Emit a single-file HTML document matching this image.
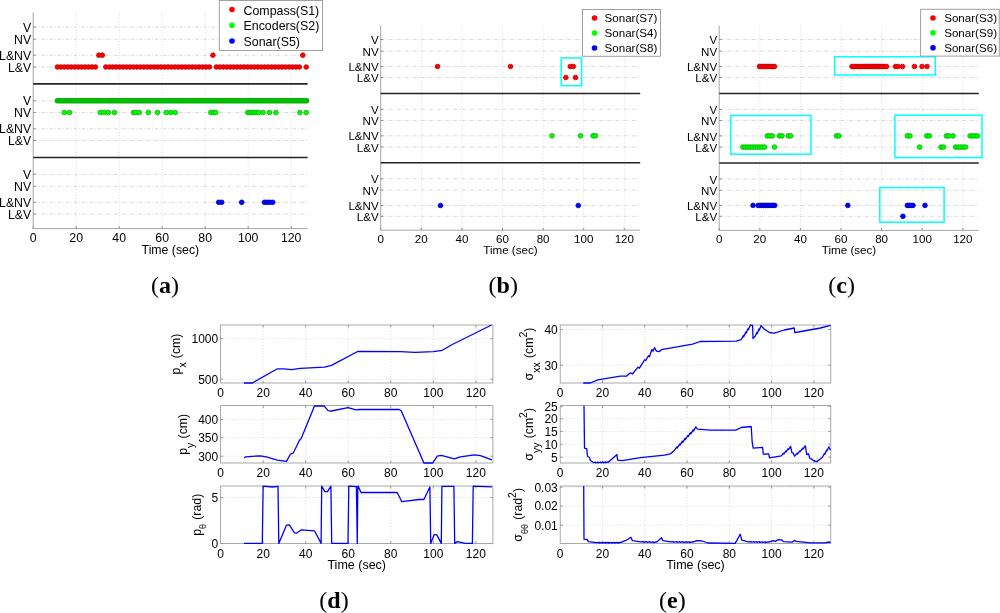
<!DOCTYPE html>
<html><head><meta charset="utf-8"><title>Figure</title>
<style>html,body{margin:0;padding:0;background:#fff}svg{display:block}</style></head>
<body>
<svg width="1000" height="613" viewBox="0 0 1000 613">
<rect width="1000" height="613" fill="#fff"/>
<line x1="76.20" y1="12.50" x2="76.20" y2="228.60" stroke="#dcdcdc" stroke-width="1" stroke-dasharray="1 1.85"/>
<line x1="119.20" y1="12.50" x2="119.20" y2="228.60" stroke="#dcdcdc" stroke-width="1" stroke-dasharray="1 1.85"/>
<line x1="162.20" y1="12.50" x2="162.20" y2="228.60" stroke="#dcdcdc" stroke-width="1" stroke-dasharray="1 1.85"/>
<line x1="205.20" y1="12.50" x2="205.20" y2="228.60" stroke="#dcdcdc" stroke-width="1" stroke-dasharray="1 1.85"/>
<line x1="248.20" y1="12.50" x2="248.20" y2="228.60" stroke="#dcdcdc" stroke-width="1" stroke-dasharray="1 1.85"/>
<line x1="291.20" y1="12.50" x2="291.20" y2="228.60" stroke="#dcdcdc" stroke-width="1" stroke-dasharray="1 1.85"/>
<line x1="33.20" y1="27.00" x2="307.60" y2="27.00" stroke="#d9d9d9" stroke-width="1" stroke-dasharray="3.6 1.8 0.9 1.8"/>
<line x1="33.20" y1="39.20" x2="307.60" y2="39.20" stroke="#d9d9d9" stroke-width="1" stroke-dasharray="3.6 1.8 0.9 1.8"/>
<line x1="33.20" y1="55.20" x2="307.60" y2="55.20" stroke="#d9d9d9" stroke-width="1" stroke-dasharray="3.6 1.8 0.9 1.8"/>
<line x1="33.20" y1="67.00" x2="307.60" y2="67.00" stroke="#d9d9d9" stroke-width="1" stroke-dasharray="3.6 1.8 0.9 1.8"/>
<line x1="33.20" y1="100.80" x2="307.60" y2="100.80" stroke="#d9d9d9" stroke-width="1" stroke-dasharray="3.6 1.8 0.9 1.8"/>
<line x1="33.20" y1="112.50" x2="307.60" y2="112.50" stroke="#d9d9d9" stroke-width="1" stroke-dasharray="3.6 1.8 0.9 1.8"/>
<line x1="33.20" y1="128.80" x2="307.60" y2="128.80" stroke="#d9d9d9" stroke-width="1" stroke-dasharray="3.6 1.8 0.9 1.8"/>
<line x1="33.20" y1="140.50" x2="307.60" y2="140.50" stroke="#d9d9d9" stroke-width="1" stroke-dasharray="3.6 1.8 0.9 1.8"/>
<line x1="33.20" y1="174.30" x2="307.60" y2="174.30" stroke="#d9d9d9" stroke-width="1" stroke-dasharray="3.6 1.8 0.9 1.8"/>
<line x1="33.20" y1="186.30" x2="307.60" y2="186.30" stroke="#d9d9d9" stroke-width="1" stroke-dasharray="3.6 1.8 0.9 1.8"/>
<line x1="33.20" y1="202.30" x2="307.60" y2="202.30" stroke="#d9d9d9" stroke-width="1" stroke-dasharray="3.6 1.8 0.9 1.8"/>
<line x1="33.20" y1="214.00" x2="307.60" y2="214.00" stroke="#d9d9d9" stroke-width="1" stroke-dasharray="3.6 1.8 0.9 1.8"/>
<line x1="33.20" y1="12.50" x2="33.20" y2="228.60" stroke="#8e8e8e" stroke-width="0.8" />
<line x1="33.20" y1="228.60" x2="307.60" y2="228.60" stroke="#8e8e8e" stroke-width="0.8" />
<line x1="33.20" y1="228.60" x2="33.20" y2="226.10" stroke="#8e8e8e" stroke-width="1" />
<text x="33.20" y="241.80" font-size="12.3" text-anchor="middle" font-family='"Liberation Sans", sans-serif' >0</text>
<line x1="76.20" y1="228.60" x2="76.20" y2="226.10" stroke="#8e8e8e" stroke-width="1" />
<text x="76.20" y="241.80" font-size="12.3" text-anchor="middle" font-family='"Liberation Sans", sans-serif' >20</text>
<line x1="119.20" y1="228.60" x2="119.20" y2="226.10" stroke="#8e8e8e" stroke-width="1" />
<text x="119.20" y="241.80" font-size="12.3" text-anchor="middle" font-family='"Liberation Sans", sans-serif' >40</text>
<line x1="162.20" y1="228.60" x2="162.20" y2="226.10" stroke="#8e8e8e" stroke-width="1" />
<text x="162.20" y="241.80" font-size="12.3" text-anchor="middle" font-family='"Liberation Sans", sans-serif' >60</text>
<line x1="205.20" y1="228.60" x2="205.20" y2="226.10" stroke="#8e8e8e" stroke-width="1" />
<text x="205.20" y="241.80" font-size="12.3" text-anchor="middle" font-family='"Liberation Sans", sans-serif' >80</text>
<line x1="248.20" y1="228.60" x2="248.20" y2="226.10" stroke="#8e8e8e" stroke-width="1" />
<text x="248.20" y="241.80" font-size="12.3" text-anchor="middle" font-family='"Liberation Sans", sans-serif' >100</text>
<line x1="291.20" y1="228.60" x2="291.20" y2="226.10" stroke="#8e8e8e" stroke-width="1" />
<text x="291.20" y="241.80" font-size="12.3" text-anchor="middle" font-family='"Liberation Sans", sans-serif' >120</text>
<line x1="33.20" y1="27.00" x2="35.70" y2="27.00" stroke="#8e8e8e" stroke-width="1" />
<text x="31.20" y="31.60" font-size="12.3" text-anchor="end" font-family='"Liberation Sans", sans-serif' >V</text>
<line x1="33.20" y1="39.20" x2="35.70" y2="39.20" stroke="#8e8e8e" stroke-width="1" />
<text x="31.20" y="43.80" font-size="12.3" text-anchor="end" font-family='"Liberation Sans", sans-serif' >NV</text>
<line x1="33.20" y1="55.20" x2="35.70" y2="55.20" stroke="#8e8e8e" stroke-width="1" />
<text x="31.20" y="59.80" font-size="12.3" text-anchor="end" font-family='"Liberation Sans", sans-serif' >L&amp;NV</text>
<line x1="33.20" y1="67.00" x2="35.70" y2="67.00" stroke="#8e8e8e" stroke-width="1" />
<text x="31.20" y="71.60" font-size="12.3" text-anchor="end" font-family='"Liberation Sans", sans-serif' >L&amp;V</text>
<line x1="33.20" y1="100.80" x2="35.70" y2="100.80" stroke="#8e8e8e" stroke-width="1" />
<text x="31.20" y="105.40" font-size="12.3" text-anchor="end" font-family='"Liberation Sans", sans-serif' >V</text>
<line x1="33.20" y1="112.50" x2="35.70" y2="112.50" stroke="#8e8e8e" stroke-width="1" />
<text x="31.20" y="117.10" font-size="12.3" text-anchor="end" font-family='"Liberation Sans", sans-serif' >NV</text>
<line x1="33.20" y1="128.80" x2="35.70" y2="128.80" stroke="#8e8e8e" stroke-width="1" />
<text x="31.20" y="133.40" font-size="12.3" text-anchor="end" font-family='"Liberation Sans", sans-serif' >L&amp;NV</text>
<line x1="33.20" y1="140.50" x2="35.70" y2="140.50" stroke="#8e8e8e" stroke-width="1" />
<text x="31.20" y="145.10" font-size="12.3" text-anchor="end" font-family='"Liberation Sans", sans-serif' >L&amp;V</text>
<line x1="33.20" y1="174.30" x2="35.70" y2="174.30" stroke="#8e8e8e" stroke-width="1" />
<text x="31.20" y="178.90" font-size="12.3" text-anchor="end" font-family='"Liberation Sans", sans-serif' >V</text>
<line x1="33.20" y1="186.30" x2="35.70" y2="186.30" stroke="#8e8e8e" stroke-width="1" />
<text x="31.20" y="190.90" font-size="12.3" text-anchor="end" font-family='"Liberation Sans", sans-serif' >NV</text>
<line x1="33.20" y1="202.30" x2="35.70" y2="202.30" stroke="#8e8e8e" stroke-width="1" />
<text x="31.20" y="206.90" font-size="12.3" text-anchor="end" font-family='"Liberation Sans", sans-serif' >L&amp;NV</text>
<line x1="33.20" y1="214.00" x2="35.70" y2="214.00" stroke="#8e8e8e" stroke-width="1" />
<text x="31.20" y="218.60" font-size="12.3" text-anchor="end" font-family='"Liberation Sans", sans-serif' >L&amp;V</text>
<line x1="33.20" y1="83.90" x2="307.60" y2="83.90" stroke="#242424" stroke-width="1.6" />
<line x1="33.20" y1="157.50" x2="307.60" y2="157.50" stroke="#242424" stroke-width="1.6" />
<text x="170.40" y="254.10" font-size="12.3" text-anchor="middle" font-family='"Liberation Sans", sans-serif' >Time (sec)</text>
<circle cx="57.40" cy="67.00" r="2.35" fill="#ff0000" stroke="#c80000" stroke-width="0.8"/>
<circle cx="60.86" cy="67.00" r="2.35" fill="#ff0000" stroke="#c80000" stroke-width="0.8"/>
<circle cx="64.31" cy="67.00" r="2.35" fill="#ff0000" stroke="#c80000" stroke-width="0.8"/>
<circle cx="67.77" cy="67.00" r="2.35" fill="#ff0000" stroke="#c80000" stroke-width="0.8"/>
<circle cx="71.22" cy="67.00" r="2.35" fill="#ff0000" stroke="#c80000" stroke-width="0.8"/>
<circle cx="74.68" cy="67.00" r="2.35" fill="#ff0000" stroke="#c80000" stroke-width="0.8"/>
<circle cx="78.14" cy="67.00" r="2.35" fill="#ff0000" stroke="#c80000" stroke-width="0.8"/>
<circle cx="81.59" cy="67.00" r="2.35" fill="#ff0000" stroke="#c80000" stroke-width="0.8"/>
<circle cx="85.05" cy="67.00" r="2.35" fill="#ff0000" stroke="#c80000" stroke-width="0.8"/>
<circle cx="88.50" cy="67.00" r="2.35" fill="#ff0000" stroke="#c80000" stroke-width="0.8"/>
<circle cx="91.96" cy="67.00" r="2.35" fill="#ff0000" stroke="#c80000" stroke-width="0.8"/>
<circle cx="95.42" cy="67.00" r="2.35" fill="#ff0000" stroke="#c80000" stroke-width="0.8"/>
<circle cx="98.87" cy="55.20" r="2.35" fill="#ff0000" stroke="#c80000" stroke-width="0.8"/>
<circle cx="102.33" cy="55.20" r="2.35" fill="#ff0000" stroke="#c80000" stroke-width="0.8"/>
<circle cx="105.78" cy="67.00" r="2.35" fill="#ff0000" stroke="#c80000" stroke-width="0.8"/>
<circle cx="109.24" cy="67.00" r="2.35" fill="#ff0000" stroke="#c80000" stroke-width="0.8"/>
<circle cx="112.70" cy="67.00" r="2.35" fill="#ff0000" stroke="#c80000" stroke-width="0.8"/>
<circle cx="116.15" cy="67.00" r="2.35" fill="#ff0000" stroke="#c80000" stroke-width="0.8"/>
<circle cx="119.61" cy="67.00" r="2.35" fill="#ff0000" stroke="#c80000" stroke-width="0.8"/>
<circle cx="123.06" cy="67.00" r="2.35" fill="#ff0000" stroke="#c80000" stroke-width="0.8"/>
<circle cx="126.52" cy="67.00" r="2.35" fill="#ff0000" stroke="#c80000" stroke-width="0.8"/>
<circle cx="129.98" cy="67.00" r="2.35" fill="#ff0000" stroke="#c80000" stroke-width="0.8"/>
<circle cx="133.43" cy="67.00" r="2.35" fill="#ff0000" stroke="#c80000" stroke-width="0.8"/>
<circle cx="136.89" cy="67.00" r="2.35" fill="#ff0000" stroke="#c80000" stroke-width="0.8"/>
<circle cx="140.34" cy="67.00" r="2.35" fill="#ff0000" stroke="#c80000" stroke-width="0.8"/>
<circle cx="143.80" cy="67.00" r="2.35" fill="#ff0000" stroke="#c80000" stroke-width="0.8"/>
<circle cx="147.26" cy="67.00" r="2.35" fill="#ff0000" stroke="#c80000" stroke-width="0.8"/>
<circle cx="150.71" cy="67.00" r="2.35" fill="#ff0000" stroke="#c80000" stroke-width="0.8"/>
<circle cx="154.17" cy="67.00" r="2.35" fill="#ff0000" stroke="#c80000" stroke-width="0.8"/>
<circle cx="157.62" cy="67.00" r="2.35" fill="#ff0000" stroke="#c80000" stroke-width="0.8"/>
<circle cx="161.08" cy="67.00" r="2.35" fill="#ff0000" stroke="#c80000" stroke-width="0.8"/>
<circle cx="164.54" cy="67.00" r="2.35" fill="#ff0000" stroke="#c80000" stroke-width="0.8"/>
<circle cx="167.99" cy="67.00" r="2.35" fill="#ff0000" stroke="#c80000" stroke-width="0.8"/>
<circle cx="171.45" cy="67.00" r="2.35" fill="#ff0000" stroke="#c80000" stroke-width="0.8"/>
<circle cx="174.90" cy="67.00" r="2.35" fill="#ff0000" stroke="#c80000" stroke-width="0.8"/>
<circle cx="178.36" cy="67.00" r="2.35" fill="#ff0000" stroke="#c80000" stroke-width="0.8"/>
<circle cx="181.82" cy="67.00" r="2.35" fill="#ff0000" stroke="#c80000" stroke-width="0.8"/>
<circle cx="185.27" cy="67.00" r="2.35" fill="#ff0000" stroke="#c80000" stroke-width="0.8"/>
<circle cx="188.73" cy="67.00" r="2.35" fill="#ff0000" stroke="#c80000" stroke-width="0.8"/>
<circle cx="192.18" cy="67.00" r="2.35" fill="#ff0000" stroke="#c80000" stroke-width="0.8"/>
<circle cx="195.64" cy="67.00" r="2.35" fill="#ff0000" stroke="#c80000" stroke-width="0.8"/>
<circle cx="199.10" cy="67.00" r="2.35" fill="#ff0000" stroke="#c80000" stroke-width="0.8"/>
<circle cx="202.55" cy="67.00" r="2.35" fill="#ff0000" stroke="#c80000" stroke-width="0.8"/>
<circle cx="206.01" cy="67.00" r="2.35" fill="#ff0000" stroke="#c80000" stroke-width="0.8"/>
<circle cx="209.46" cy="67.00" r="2.35" fill="#ff0000" stroke="#c80000" stroke-width="0.8"/>
<circle cx="212.92" cy="55.20" r="2.35" fill="#ff0000" stroke="#c80000" stroke-width="0.8"/>
<circle cx="216.38" cy="67.00" r="2.35" fill="#ff0000" stroke="#c80000" stroke-width="0.8"/>
<circle cx="219.83" cy="67.00" r="2.35" fill="#ff0000" stroke="#c80000" stroke-width="0.8"/>
<circle cx="223.29" cy="67.00" r="2.35" fill="#ff0000" stroke="#c80000" stroke-width="0.8"/>
<circle cx="226.74" cy="67.00" r="2.35" fill="#ff0000" stroke="#c80000" stroke-width="0.8"/>
<circle cx="230.20" cy="67.00" r="2.35" fill="#ff0000" stroke="#c80000" stroke-width="0.8"/>
<circle cx="233.66" cy="67.00" r="2.35" fill="#ff0000" stroke="#c80000" stroke-width="0.8"/>
<circle cx="237.11" cy="67.00" r="2.35" fill="#ff0000" stroke="#c80000" stroke-width="0.8"/>
<circle cx="240.57" cy="67.00" r="2.35" fill="#ff0000" stroke="#c80000" stroke-width="0.8"/>
<circle cx="244.02" cy="67.00" r="2.35" fill="#ff0000" stroke="#c80000" stroke-width="0.8"/>
<circle cx="247.48" cy="67.00" r="2.35" fill="#ff0000" stroke="#c80000" stroke-width="0.8"/>
<circle cx="250.94" cy="67.00" r="2.35" fill="#ff0000" stroke="#c80000" stroke-width="0.8"/>
<circle cx="254.39" cy="67.00" r="2.35" fill="#ff0000" stroke="#c80000" stroke-width="0.8"/>
<circle cx="257.85" cy="67.00" r="2.35" fill="#ff0000" stroke="#c80000" stroke-width="0.8"/>
<circle cx="261.30" cy="67.00" r="2.35" fill="#ff0000" stroke="#c80000" stroke-width="0.8"/>
<circle cx="264.76" cy="67.00" r="2.35" fill="#ff0000" stroke="#c80000" stroke-width="0.8"/>
<circle cx="268.22" cy="67.00" r="2.35" fill="#ff0000" stroke="#c80000" stroke-width="0.8"/>
<circle cx="271.67" cy="67.00" r="2.35" fill="#ff0000" stroke="#c80000" stroke-width="0.8"/>
<circle cx="275.13" cy="67.00" r="2.35" fill="#ff0000" stroke="#c80000" stroke-width="0.8"/>
<circle cx="278.58" cy="67.00" r="2.35" fill="#ff0000" stroke="#c80000" stroke-width="0.8"/>
<circle cx="282.04" cy="67.00" r="2.35" fill="#ff0000" stroke="#c80000" stroke-width="0.8"/>
<circle cx="285.50" cy="67.00" r="2.35" fill="#ff0000" stroke="#c80000" stroke-width="0.8"/>
<circle cx="288.95" cy="67.00" r="2.35" fill="#ff0000" stroke="#c80000" stroke-width="0.8"/>
<circle cx="292.41" cy="67.00" r="2.35" fill="#ff0000" stroke="#c80000" stroke-width="0.8"/>
<circle cx="295.86" cy="67.00" r="2.35" fill="#ff0000" stroke="#c80000" stroke-width="0.8"/>
<circle cx="299.32" cy="67.00" r="2.35" fill="#ff0000" stroke="#c80000" stroke-width="0.8"/>
<circle cx="302.78" cy="55.20" r="2.35" fill="#ff0000" stroke="#c80000" stroke-width="0.8"/>
<circle cx="306.23" cy="67.00" r="2.35" fill="#ff0000" stroke="#c80000" stroke-width="0.8"/>
<line x1="57.4" y1="100.8" x2="306.5" y2="100.8" stroke="#00b900" stroke-width="5.5" stroke-linecap="round"/>
<circle cx="64.30" cy="112.50" r="2.35" fill="#00ff00" stroke="#00b400" stroke-width="0.8"/>
<circle cx="69.60" cy="112.50" r="2.35" fill="#00ff00" stroke="#00b400" stroke-width="0.8"/>
<circle cx="100.20" cy="112.50" r="2.35" fill="#00ff00" stroke="#00b400" stroke-width="0.8"/>
<circle cx="104.20" cy="112.50" r="2.35" fill="#00ff00" stroke="#00b400" stroke-width="0.8"/>
<circle cx="108.30" cy="112.50" r="2.35" fill="#00ff00" stroke="#00b400" stroke-width="0.8"/>
<circle cx="114.40" cy="112.50" r="2.35" fill="#00ff00" stroke="#00b400" stroke-width="0.8"/>
<circle cx="133.50" cy="112.50" r="2.35" fill="#00ff00" stroke="#00b400" stroke-width="0.8"/>
<circle cx="135.70" cy="112.50" r="2.35" fill="#00ff00" stroke="#00b400" stroke-width="0.8"/>
<circle cx="139.20" cy="112.50" r="2.35" fill="#00ff00" stroke="#00b400" stroke-width="0.8"/>
<circle cx="148.30" cy="112.50" r="2.35" fill="#00ff00" stroke="#00b400" stroke-width="0.8"/>
<circle cx="157.50" cy="112.50" r="2.35" fill="#00ff00" stroke="#00b400" stroke-width="0.8"/>
<circle cx="166.20" cy="112.50" r="2.35" fill="#00ff00" stroke="#00b400" stroke-width="0.8"/>
<circle cx="170.70" cy="112.50" r="2.35" fill="#00ff00" stroke="#00b400" stroke-width="0.8"/>
<circle cx="175.20" cy="112.50" r="2.35" fill="#00ff00" stroke="#00b400" stroke-width="0.8"/>
<circle cx="210.80" cy="112.50" r="2.35" fill="#00ff00" stroke="#00b400" stroke-width="0.8"/>
<circle cx="213.50" cy="112.50" r="2.35" fill="#00ff00" stroke="#00b400" stroke-width="0.8"/>
<circle cx="215.70" cy="112.50" r="2.35" fill="#00ff00" stroke="#00b400" stroke-width="0.8"/>
<circle cx="247.70" cy="112.50" r="2.35" fill="#00ff00" stroke="#00b400" stroke-width="0.8"/>
<circle cx="249.90" cy="112.50" r="2.35" fill="#00ff00" stroke="#00b400" stroke-width="0.8"/>
<circle cx="252.00" cy="112.50" r="2.35" fill="#00ff00" stroke="#00b400" stroke-width="0.8"/>
<circle cx="254.30" cy="112.50" r="2.35" fill="#00ff00" stroke="#00b400" stroke-width="0.8"/>
<circle cx="256.40" cy="112.50" r="2.35" fill="#00ff00" stroke="#00b400" stroke-width="0.8"/>
<circle cx="258.50" cy="112.50" r="2.35" fill="#00ff00" stroke="#00b400" stroke-width="0.8"/>
<circle cx="263.00" cy="112.50" r="2.35" fill="#00ff00" stroke="#00b400" stroke-width="0.8"/>
<circle cx="269.60" cy="112.50" r="2.35" fill="#00ff00" stroke="#00b400" stroke-width="0.8"/>
<circle cx="275.90" cy="112.50" r="2.35" fill="#00ff00" stroke="#00b400" stroke-width="0.8"/>
<circle cx="299.90" cy="112.50" r="2.35" fill="#00ff00" stroke="#00b400" stroke-width="0.8"/>
<circle cx="306.20" cy="112.50" r="2.35" fill="#00ff00" stroke="#00b400" stroke-width="0.8"/>
<circle cx="218.70" cy="202.30" r="2.35" fill="#0000ff" stroke="#0000b8" stroke-width="0.8"/>
<circle cx="221.70" cy="202.30" r="2.35" fill="#0000ff" stroke="#0000b8" stroke-width="0.8"/>
<circle cx="241.70" cy="202.30" r="2.35" fill="#0000ff" stroke="#0000b8" stroke-width="0.8"/>
<circle cx="264.50" cy="202.30" r="2.35" fill="#0000ff" stroke="#0000b8" stroke-width="0.8"/>
<circle cx="267.20" cy="202.30" r="2.35" fill="#0000ff" stroke="#0000b8" stroke-width="0.8"/>
<circle cx="269.70" cy="202.30" r="2.35" fill="#0000ff" stroke="#0000b8" stroke-width="0.8"/>
<circle cx="272.70" cy="202.30" r="2.35" fill="#0000ff" stroke="#0000b8" stroke-width="0.8"/>
<rect x="219.30" y="0.50" width="103.20" height="50.00" fill="#fff" stroke="#a0a0a0" stroke-width="1"/>
<circle cx="232.00" cy="9.50" r="2.8" fill="#ff0000"/>
<text x="243.50" y="14.50" font-size="12.4" text-anchor="start" font-family='"Liberation Sans", sans-serif' >Compass(S1)</text>
<circle cx="232.00" cy="25.20" r="2.8" fill="#00ff00"/>
<text x="243.50" y="30.20" font-size="12.4" text-anchor="start" font-family='"Liberation Sans", sans-serif' >Encoders(S2)</text>
<circle cx="232.00" cy="41.00" r="2.8" fill="#0000ff"/>
<text x="243.50" y="46.00" font-size="12.4" text-anchor="start" font-family='"Liberation Sans", sans-serif' >Sonar(S5)</text>
<line x1="421.30" y1="25.80" x2="421.30" y2="230.20" stroke="#dcdcdc" stroke-width="1" stroke-dasharray="1 1.85"/>
<line x1="461.90" y1="25.80" x2="461.90" y2="230.20" stroke="#dcdcdc" stroke-width="1" stroke-dasharray="1 1.85"/>
<line x1="502.50" y1="25.80" x2="502.50" y2="230.20" stroke="#dcdcdc" stroke-width="1" stroke-dasharray="1 1.85"/>
<line x1="543.10" y1="25.80" x2="543.10" y2="230.20" stroke="#dcdcdc" stroke-width="1" stroke-dasharray="1 1.85"/>
<line x1="583.70" y1="25.80" x2="583.70" y2="230.20" stroke="#dcdcdc" stroke-width="1" stroke-dasharray="1 1.85"/>
<line x1="624.30" y1="25.80" x2="624.30" y2="230.20" stroke="#dcdcdc" stroke-width="1" stroke-dasharray="1 1.85"/>
<line x1="380.70" y1="39.50" x2="640.20" y2="39.50" stroke="#d9d9d9" stroke-width="1" stroke-dasharray="3.6 1.8 0.9 1.8"/>
<line x1="380.70" y1="51.20" x2="640.20" y2="51.20" stroke="#d9d9d9" stroke-width="1" stroke-dasharray="3.6 1.8 0.9 1.8"/>
<line x1="380.70" y1="66.50" x2="640.20" y2="66.50" stroke="#d9d9d9" stroke-width="1" stroke-dasharray="3.6 1.8 0.9 1.8"/>
<line x1="380.70" y1="77.50" x2="640.20" y2="77.50" stroke="#d9d9d9" stroke-width="1" stroke-dasharray="3.6 1.8 0.9 1.8"/>
<line x1="380.70" y1="109.30" x2="640.20" y2="109.30" stroke="#d9d9d9" stroke-width="1" stroke-dasharray="3.6 1.8 0.9 1.8"/>
<line x1="380.70" y1="120.50" x2="640.20" y2="120.50" stroke="#d9d9d9" stroke-width="1" stroke-dasharray="3.6 1.8 0.9 1.8"/>
<line x1="380.70" y1="135.80" x2="640.20" y2="135.80" stroke="#d9d9d9" stroke-width="1" stroke-dasharray="3.6 1.8 0.9 1.8"/>
<line x1="380.70" y1="147.00" x2="640.20" y2="147.00" stroke="#d9d9d9" stroke-width="1" stroke-dasharray="3.6 1.8 0.9 1.8"/>
<line x1="380.70" y1="178.80" x2="640.20" y2="178.80" stroke="#d9d9d9" stroke-width="1" stroke-dasharray="3.6 1.8 0.9 1.8"/>
<line x1="380.70" y1="190.00" x2="640.20" y2="190.00" stroke="#d9d9d9" stroke-width="1" stroke-dasharray="3.6 1.8 0.9 1.8"/>
<line x1="380.70" y1="205.50" x2="640.20" y2="205.50" stroke="#d9d9d9" stroke-width="1" stroke-dasharray="3.6 1.8 0.9 1.8"/>
<line x1="380.70" y1="216.30" x2="640.20" y2="216.30" stroke="#d9d9d9" stroke-width="1" stroke-dasharray="3.6 1.8 0.9 1.8"/>
<line x1="380.70" y1="25.80" x2="380.70" y2="230.20" stroke="#8e8e8e" stroke-width="0.8" />
<line x1="380.70" y1="230.20" x2="640.20" y2="230.20" stroke="#8e8e8e" stroke-width="0.8" />
<line x1="380.70" y1="230.20" x2="380.70" y2="227.70" stroke="#8e8e8e" stroke-width="1" />
<text x="380.70" y="242.70" font-size="11.6" text-anchor="middle" font-family='"Liberation Sans", sans-serif' >0</text>
<line x1="421.30" y1="230.20" x2="421.30" y2="227.70" stroke="#8e8e8e" stroke-width="1" />
<text x="421.30" y="242.70" font-size="11.6" text-anchor="middle" font-family='"Liberation Sans", sans-serif' >20</text>
<line x1="461.90" y1="230.20" x2="461.90" y2="227.70" stroke="#8e8e8e" stroke-width="1" />
<text x="461.90" y="242.70" font-size="11.6" text-anchor="middle" font-family='"Liberation Sans", sans-serif' >40</text>
<line x1="502.50" y1="230.20" x2="502.50" y2="227.70" stroke="#8e8e8e" stroke-width="1" />
<text x="502.50" y="242.70" font-size="11.6" text-anchor="middle" font-family='"Liberation Sans", sans-serif' >60</text>
<line x1="543.10" y1="230.20" x2="543.10" y2="227.70" stroke="#8e8e8e" stroke-width="1" />
<text x="543.10" y="242.70" font-size="11.6" text-anchor="middle" font-family='"Liberation Sans", sans-serif' >80</text>
<line x1="583.70" y1="230.20" x2="583.70" y2="227.70" stroke="#8e8e8e" stroke-width="1" />
<text x="583.70" y="242.70" font-size="11.6" text-anchor="middle" font-family='"Liberation Sans", sans-serif' >100</text>
<line x1="624.30" y1="230.20" x2="624.30" y2="227.70" stroke="#8e8e8e" stroke-width="1" />
<text x="624.30" y="242.70" font-size="11.6" text-anchor="middle" font-family='"Liberation Sans", sans-serif' >120</text>
<line x1="380.70" y1="39.50" x2="383.20" y2="39.50" stroke="#8e8e8e" stroke-width="1" />
<text x="378.70" y="44.10" font-size="11.6" text-anchor="end" font-family='"Liberation Sans", sans-serif' >V</text>
<line x1="380.70" y1="51.20" x2="383.20" y2="51.20" stroke="#8e8e8e" stroke-width="1" />
<text x="378.70" y="55.80" font-size="11.6" text-anchor="end" font-family='"Liberation Sans", sans-serif' >NV</text>
<line x1="380.70" y1="66.50" x2="383.20" y2="66.50" stroke="#8e8e8e" stroke-width="1" />
<text x="378.70" y="71.10" font-size="11.6" text-anchor="end" font-family='"Liberation Sans", sans-serif' >L&amp;NV</text>
<line x1="380.70" y1="77.50" x2="383.20" y2="77.50" stroke="#8e8e8e" stroke-width="1" />
<text x="378.70" y="82.10" font-size="11.6" text-anchor="end" font-family='"Liberation Sans", sans-serif' >L&amp;V</text>
<line x1="380.70" y1="109.30" x2="383.20" y2="109.30" stroke="#8e8e8e" stroke-width="1" />
<text x="378.70" y="113.90" font-size="11.6" text-anchor="end" font-family='"Liberation Sans", sans-serif' >V</text>
<line x1="380.70" y1="120.50" x2="383.20" y2="120.50" stroke="#8e8e8e" stroke-width="1" />
<text x="378.70" y="125.10" font-size="11.6" text-anchor="end" font-family='"Liberation Sans", sans-serif' >NV</text>
<line x1="380.70" y1="135.80" x2="383.20" y2="135.80" stroke="#8e8e8e" stroke-width="1" />
<text x="378.70" y="140.40" font-size="11.6" text-anchor="end" font-family='"Liberation Sans", sans-serif' >L&amp;NV</text>
<line x1="380.70" y1="147.00" x2="383.20" y2="147.00" stroke="#8e8e8e" stroke-width="1" />
<text x="378.70" y="151.60" font-size="11.6" text-anchor="end" font-family='"Liberation Sans", sans-serif' >L&amp;V</text>
<line x1="380.70" y1="178.80" x2="383.20" y2="178.80" stroke="#8e8e8e" stroke-width="1" />
<text x="378.70" y="183.40" font-size="11.6" text-anchor="end" font-family='"Liberation Sans", sans-serif' >V</text>
<line x1="380.70" y1="190.00" x2="383.20" y2="190.00" stroke="#8e8e8e" stroke-width="1" />
<text x="378.70" y="194.60" font-size="11.6" text-anchor="end" font-family='"Liberation Sans", sans-serif' >NV</text>
<line x1="380.70" y1="205.50" x2="383.20" y2="205.50" stroke="#8e8e8e" stroke-width="1" />
<text x="378.70" y="210.10" font-size="11.6" text-anchor="end" font-family='"Liberation Sans", sans-serif' >L&amp;NV</text>
<line x1="380.70" y1="216.30" x2="383.20" y2="216.30" stroke="#8e8e8e" stroke-width="1" />
<text x="378.70" y="220.90" font-size="11.6" text-anchor="end" font-family='"Liberation Sans", sans-serif' >L&amp;V</text>
<line x1="380.70" y1="93.50" x2="640.20" y2="93.50" stroke="#242424" stroke-width="1.6" />
<line x1="380.70" y1="162.80" x2="640.20" y2="162.80" stroke="#242424" stroke-width="1.6" />
<text x="510.45" y="254.10" font-size="11.6" text-anchor="middle" font-family='"Liberation Sans", sans-serif' >Time (sec)</text>
<circle cx="437.50" cy="66.50" r="2.35" fill="#ff0000" stroke="#c80000" stroke-width="0.8"/>
<circle cx="510.50" cy="66.50" r="2.35" fill="#ff0000" stroke="#c80000" stroke-width="0.8"/>
<circle cx="570.30" cy="66.50" r="2.35" fill="#ff0000" stroke="#c80000" stroke-width="0.8"/>
<circle cx="573.30" cy="66.50" r="2.35" fill="#ff0000" stroke="#c80000" stroke-width="0.8"/>
<circle cx="565.80" cy="77.50" r="2.35" fill="#ff0000" stroke="#c80000" stroke-width="0.8"/>
<circle cx="575.50" cy="77.50" r="2.35" fill="#ff0000" stroke="#c80000" stroke-width="0.8"/>
<circle cx="552.00" cy="135.80" r="2.35" fill="#00ff00" stroke="#00b400" stroke-width="0.8"/>
<circle cx="580.50" cy="135.80" r="2.35" fill="#00ff00" stroke="#00b400" stroke-width="0.8"/>
<circle cx="593.00" cy="135.80" r="2.35" fill="#00ff00" stroke="#00b400" stroke-width="0.8"/>
<circle cx="595.50" cy="135.80" r="2.35" fill="#00ff00" stroke="#00b400" stroke-width="0.8"/>
<circle cx="440.50" cy="205.50" r="2.35" fill="#0000ff" stroke="#0000b8" stroke-width="0.8"/>
<circle cx="578.30" cy="205.50" r="2.35" fill="#0000ff" stroke="#0000b8" stroke-width="0.8"/>
<rect x="561.20" y="57.90" width="20.40" height="27.80" fill="none" stroke="#00ffff" stroke-width="1.5"/>
<rect x="582.50" y="9.50" width="78.00" height="46.80" fill="#fff" stroke="#a0a0a0" stroke-width="1"/>
<circle cx="594.50" cy="18.00" r="2.8" fill="#ff0000"/>
<text x="604.50" y="22.20" font-size="11.6" text-anchor="start" font-family='"Liberation Sans", sans-serif' >Sonar(S7)</text>
<circle cx="594.50" cy="33.00" r="2.8" fill="#00ff00"/>
<text x="604.50" y="37.20" font-size="11.6" text-anchor="start" font-family='"Liberation Sans", sans-serif' >Sonar(S4)</text>
<circle cx="594.50" cy="48.00" r="2.8" fill="#0000ff"/>
<text x="604.50" y="52.20" font-size="11.6" text-anchor="start" font-family='"Liberation Sans", sans-serif' >Sonar(S8)</text>
<line x1="759.80" y1="25.80" x2="759.80" y2="230.40" stroke="#dcdcdc" stroke-width="1" stroke-dasharray="1 1.85"/>
<line x1="800.40" y1="25.80" x2="800.40" y2="230.40" stroke="#dcdcdc" stroke-width="1" stroke-dasharray="1 1.85"/>
<line x1="841.00" y1="25.80" x2="841.00" y2="230.40" stroke="#dcdcdc" stroke-width="1" stroke-dasharray="1 1.85"/>
<line x1="881.60" y1="25.80" x2="881.60" y2="230.40" stroke="#dcdcdc" stroke-width="1" stroke-dasharray="1 1.85"/>
<line x1="922.20" y1="25.80" x2="922.20" y2="230.40" stroke="#dcdcdc" stroke-width="1" stroke-dasharray="1 1.85"/>
<line x1="962.80" y1="25.80" x2="962.80" y2="230.40" stroke="#dcdcdc" stroke-width="1" stroke-dasharray="1 1.85"/>
<line x1="719.20" y1="39.50" x2="978.80" y2="39.50" stroke="#d9d9d9" stroke-width="1" stroke-dasharray="3.6 1.8 0.9 1.8"/>
<line x1="719.20" y1="51.20" x2="978.80" y2="51.20" stroke="#d9d9d9" stroke-width="1" stroke-dasharray="3.6 1.8 0.9 1.8"/>
<line x1="719.20" y1="66.50" x2="978.80" y2="66.50" stroke="#d9d9d9" stroke-width="1" stroke-dasharray="3.6 1.8 0.9 1.8"/>
<line x1="719.20" y1="77.50" x2="978.80" y2="77.50" stroke="#d9d9d9" stroke-width="1" stroke-dasharray="3.6 1.8 0.9 1.8"/>
<line x1="719.20" y1="109.40" x2="978.80" y2="109.40" stroke="#d9d9d9" stroke-width="1" stroke-dasharray="3.6 1.8 0.9 1.8"/>
<line x1="719.20" y1="120.50" x2="978.80" y2="120.50" stroke="#d9d9d9" stroke-width="1" stroke-dasharray="3.6 1.8 0.9 1.8"/>
<line x1="719.20" y1="135.90" x2="978.80" y2="135.90" stroke="#d9d9d9" stroke-width="1" stroke-dasharray="3.6 1.8 0.9 1.8"/>
<line x1="719.20" y1="147.10" x2="978.80" y2="147.10" stroke="#d9d9d9" stroke-width="1" stroke-dasharray="3.6 1.8 0.9 1.8"/>
<line x1="719.20" y1="179.00" x2="978.80" y2="179.00" stroke="#d9d9d9" stroke-width="1" stroke-dasharray="3.6 1.8 0.9 1.8"/>
<line x1="719.20" y1="190.30" x2="978.80" y2="190.30" stroke="#d9d9d9" stroke-width="1" stroke-dasharray="3.6 1.8 0.9 1.8"/>
<line x1="719.20" y1="205.40" x2="978.80" y2="205.40" stroke="#d9d9d9" stroke-width="1" stroke-dasharray="3.6 1.8 0.9 1.8"/>
<line x1="719.20" y1="216.30" x2="978.80" y2="216.30" stroke="#d9d9d9" stroke-width="1" stroke-dasharray="3.6 1.8 0.9 1.8"/>
<line x1="719.20" y1="25.80" x2="719.20" y2="230.40" stroke="#8e8e8e" stroke-width="0.8" />
<line x1="719.20" y1="230.40" x2="978.80" y2="230.40" stroke="#8e8e8e" stroke-width="0.8" />
<line x1="719.20" y1="230.40" x2="719.20" y2="227.90" stroke="#8e8e8e" stroke-width="1" />
<text x="719.20" y="242.90" font-size="11.6" text-anchor="middle" font-family='"Liberation Sans", sans-serif' >0</text>
<line x1="759.80" y1="230.40" x2="759.80" y2="227.90" stroke="#8e8e8e" stroke-width="1" />
<text x="759.80" y="242.90" font-size="11.6" text-anchor="middle" font-family='"Liberation Sans", sans-serif' >20</text>
<line x1="800.40" y1="230.40" x2="800.40" y2="227.90" stroke="#8e8e8e" stroke-width="1" />
<text x="800.40" y="242.90" font-size="11.6" text-anchor="middle" font-family='"Liberation Sans", sans-serif' >40</text>
<line x1="841.00" y1="230.40" x2="841.00" y2="227.90" stroke="#8e8e8e" stroke-width="1" />
<text x="841.00" y="242.90" font-size="11.6" text-anchor="middle" font-family='"Liberation Sans", sans-serif' >60</text>
<line x1="881.60" y1="230.40" x2="881.60" y2="227.90" stroke="#8e8e8e" stroke-width="1" />
<text x="881.60" y="242.90" font-size="11.6" text-anchor="middle" font-family='"Liberation Sans", sans-serif' >80</text>
<line x1="922.20" y1="230.40" x2="922.20" y2="227.90" stroke="#8e8e8e" stroke-width="1" />
<text x="922.20" y="242.90" font-size="11.6" text-anchor="middle" font-family='"Liberation Sans", sans-serif' >100</text>
<line x1="962.80" y1="230.40" x2="962.80" y2="227.90" stroke="#8e8e8e" stroke-width="1" />
<text x="962.80" y="242.90" font-size="11.6" text-anchor="middle" font-family='"Liberation Sans", sans-serif' >120</text>
<line x1="719.20" y1="39.50" x2="721.70" y2="39.50" stroke="#8e8e8e" stroke-width="1" />
<text x="717.20" y="44.10" font-size="11.6" text-anchor="end" font-family='"Liberation Sans", sans-serif' >V</text>
<line x1="719.20" y1="51.20" x2="721.70" y2="51.20" stroke="#8e8e8e" stroke-width="1" />
<text x="717.20" y="55.80" font-size="11.6" text-anchor="end" font-family='"Liberation Sans", sans-serif' >NV</text>
<line x1="719.20" y1="66.50" x2="721.70" y2="66.50" stroke="#8e8e8e" stroke-width="1" />
<text x="717.20" y="71.10" font-size="11.6" text-anchor="end" font-family='"Liberation Sans", sans-serif' >L&amp;NV</text>
<line x1="719.20" y1="77.50" x2="721.70" y2="77.50" stroke="#8e8e8e" stroke-width="1" />
<text x="717.20" y="82.10" font-size="11.6" text-anchor="end" font-family='"Liberation Sans", sans-serif' >L&amp;V</text>
<line x1="719.20" y1="109.40" x2="721.70" y2="109.40" stroke="#8e8e8e" stroke-width="1" />
<text x="717.20" y="114.00" font-size="11.6" text-anchor="end" font-family='"Liberation Sans", sans-serif' >V</text>
<line x1="719.20" y1="120.50" x2="721.70" y2="120.50" stroke="#8e8e8e" stroke-width="1" />
<text x="717.20" y="125.10" font-size="11.6" text-anchor="end" font-family='"Liberation Sans", sans-serif' >NV</text>
<line x1="719.20" y1="135.90" x2="721.70" y2="135.90" stroke="#8e8e8e" stroke-width="1" />
<text x="717.20" y="140.50" font-size="11.6" text-anchor="end" font-family='"Liberation Sans", sans-serif' >L&amp;NV</text>
<line x1="719.20" y1="147.10" x2="721.70" y2="147.10" stroke="#8e8e8e" stroke-width="1" />
<text x="717.20" y="151.70" font-size="11.6" text-anchor="end" font-family='"Liberation Sans", sans-serif' >L&amp;V</text>
<line x1="719.20" y1="179.00" x2="721.70" y2="179.00" stroke="#8e8e8e" stroke-width="1" />
<text x="717.20" y="183.60" font-size="11.6" text-anchor="end" font-family='"Liberation Sans", sans-serif' >V</text>
<line x1="719.20" y1="190.30" x2="721.70" y2="190.30" stroke="#8e8e8e" stroke-width="1" />
<text x="717.20" y="194.90" font-size="11.6" text-anchor="end" font-family='"Liberation Sans", sans-serif' >NV</text>
<line x1="719.20" y1="205.40" x2="721.70" y2="205.40" stroke="#8e8e8e" stroke-width="1" />
<text x="717.20" y="210.00" font-size="11.6" text-anchor="end" font-family='"Liberation Sans", sans-serif' >L&amp;NV</text>
<line x1="719.20" y1="216.30" x2="721.70" y2="216.30" stroke="#8e8e8e" stroke-width="1" />
<text x="717.20" y="220.90" font-size="11.6" text-anchor="end" font-family='"Liberation Sans", sans-serif' >L&amp;V</text>
<line x1="719.20" y1="93.50" x2="978.80" y2="93.50" stroke="#242424" stroke-width="1.6" />
<line x1="719.20" y1="163.00" x2="978.80" y2="163.00" stroke="#242424" stroke-width="1.6" />
<text x="849.00" y="254.30" font-size="11.6" text-anchor="middle" font-family='"Liberation Sans", sans-serif' >Time (sec)</text>
<circle cx="759.50" cy="66.50" r="2.35" fill="#ff0000" stroke="#c80000" stroke-width="0.8"/>
<circle cx="761.17" cy="66.50" r="2.35" fill="#ff0000" stroke="#c80000" stroke-width="0.8"/>
<circle cx="762.83" cy="66.50" r="2.35" fill="#ff0000" stroke="#c80000" stroke-width="0.8"/>
<circle cx="764.50" cy="66.50" r="2.35" fill="#ff0000" stroke="#c80000" stroke-width="0.8"/>
<circle cx="766.17" cy="66.50" r="2.35" fill="#ff0000" stroke="#c80000" stroke-width="0.8"/>
<circle cx="767.83" cy="66.50" r="2.35" fill="#ff0000" stroke="#c80000" stroke-width="0.8"/>
<circle cx="769.50" cy="66.50" r="2.35" fill="#ff0000" stroke="#c80000" stroke-width="0.8"/>
<circle cx="771.17" cy="66.50" r="2.35" fill="#ff0000" stroke="#c80000" stroke-width="0.8"/>
<circle cx="772.83" cy="66.50" r="2.35" fill="#ff0000" stroke="#c80000" stroke-width="0.8"/>
<circle cx="774.50" cy="66.50" r="2.35" fill="#ff0000" stroke="#c80000" stroke-width="0.8"/>
<circle cx="852.00" cy="66.50" r="2.35" fill="#ff0000" stroke="#c80000" stroke-width="0.8"/>
<circle cx="853.73" cy="66.50" r="2.35" fill="#ff0000" stroke="#c80000" stroke-width="0.8"/>
<circle cx="855.45" cy="66.50" r="2.35" fill="#ff0000" stroke="#c80000" stroke-width="0.8"/>
<circle cx="857.17" cy="66.50" r="2.35" fill="#ff0000" stroke="#c80000" stroke-width="0.8"/>
<circle cx="858.90" cy="66.50" r="2.35" fill="#ff0000" stroke="#c80000" stroke-width="0.8"/>
<circle cx="860.62" cy="66.50" r="2.35" fill="#ff0000" stroke="#c80000" stroke-width="0.8"/>
<circle cx="862.35" cy="66.50" r="2.35" fill="#ff0000" stroke="#c80000" stroke-width="0.8"/>
<circle cx="864.08" cy="66.50" r="2.35" fill="#ff0000" stroke="#c80000" stroke-width="0.8"/>
<circle cx="865.80" cy="66.50" r="2.35" fill="#ff0000" stroke="#c80000" stroke-width="0.8"/>
<circle cx="867.52" cy="66.50" r="2.35" fill="#ff0000" stroke="#c80000" stroke-width="0.8"/>
<circle cx="869.25" cy="66.50" r="2.35" fill="#ff0000" stroke="#c80000" stroke-width="0.8"/>
<circle cx="870.98" cy="66.50" r="2.35" fill="#ff0000" stroke="#c80000" stroke-width="0.8"/>
<circle cx="872.70" cy="66.50" r="2.35" fill="#ff0000" stroke="#c80000" stroke-width="0.8"/>
<circle cx="874.42" cy="66.50" r="2.35" fill="#ff0000" stroke="#c80000" stroke-width="0.8"/>
<circle cx="876.15" cy="66.50" r="2.35" fill="#ff0000" stroke="#c80000" stroke-width="0.8"/>
<circle cx="877.88" cy="66.50" r="2.35" fill="#ff0000" stroke="#c80000" stroke-width="0.8"/>
<circle cx="879.60" cy="66.50" r="2.35" fill="#ff0000" stroke="#c80000" stroke-width="0.8"/>
<circle cx="881.33" cy="66.50" r="2.35" fill="#ff0000" stroke="#c80000" stroke-width="0.8"/>
<circle cx="883.05" cy="66.50" r="2.35" fill="#ff0000" stroke="#c80000" stroke-width="0.8"/>
<circle cx="884.77" cy="66.50" r="2.35" fill="#ff0000" stroke="#c80000" stroke-width="0.8"/>
<circle cx="886.50" cy="66.50" r="2.35" fill="#ff0000" stroke="#c80000" stroke-width="0.8"/>
<circle cx="895.50" cy="66.50" r="2.35" fill="#ff0000" stroke="#c80000" stroke-width="0.8"/>
<circle cx="898.00" cy="66.50" r="2.35" fill="#ff0000" stroke="#c80000" stroke-width="0.8"/>
<circle cx="902.50" cy="66.50" r="2.35" fill="#ff0000" stroke="#c80000" stroke-width="0.8"/>
<circle cx="914.50" cy="66.50" r="2.35" fill="#ff0000" stroke="#c80000" stroke-width="0.8"/>
<circle cx="922.00" cy="66.50" r="2.35" fill="#ff0000" stroke="#c80000" stroke-width="0.8"/>
<circle cx="927.00" cy="66.50" r="2.35" fill="#ff0000" stroke="#c80000" stroke-width="0.8"/>
<circle cx="767.30" cy="135.90" r="2.35" fill="#00ff00" stroke="#00b400" stroke-width="0.8"/>
<circle cx="769.80" cy="135.90" r="2.35" fill="#00ff00" stroke="#00b400" stroke-width="0.8"/>
<circle cx="772.30" cy="135.90" r="2.35" fill="#00ff00" stroke="#00b400" stroke-width="0.8"/>
<circle cx="779.30" cy="135.90" r="2.35" fill="#00ff00" stroke="#00b400" stroke-width="0.8"/>
<circle cx="782.00" cy="135.90" r="2.35" fill="#00ff00" stroke="#00b400" stroke-width="0.8"/>
<circle cx="788.30" cy="135.90" r="2.35" fill="#00ff00" stroke="#00b400" stroke-width="0.8"/>
<circle cx="790.70" cy="135.90" r="2.35" fill="#00ff00" stroke="#00b400" stroke-width="0.8"/>
<circle cx="836.50" cy="135.90" r="2.35" fill="#00ff00" stroke="#00b400" stroke-width="0.8"/>
<circle cx="838.90" cy="135.90" r="2.35" fill="#00ff00" stroke="#00b400" stroke-width="0.8"/>
<circle cx="907.30" cy="135.90" r="2.35" fill="#00ff00" stroke="#00b400" stroke-width="0.8"/>
<circle cx="910.00" cy="135.90" r="2.35" fill="#00ff00" stroke="#00b400" stroke-width="0.8"/>
<circle cx="926.80" cy="135.90" r="2.35" fill="#00ff00" stroke="#00b400" stroke-width="0.8"/>
<circle cx="929.40" cy="135.90" r="2.35" fill="#00ff00" stroke="#00b400" stroke-width="0.8"/>
<circle cx="946.40" cy="135.90" r="2.35" fill="#00ff00" stroke="#00b400" stroke-width="0.8"/>
<circle cx="948.80" cy="135.90" r="2.35" fill="#00ff00" stroke="#00b400" stroke-width="0.8"/>
<circle cx="953.00" cy="135.90" r="2.35" fill="#00ff00" stroke="#00b400" stroke-width="0.8"/>
<circle cx="970.10" cy="135.90" r="2.35" fill="#00ff00" stroke="#00b400" stroke-width="0.8"/>
<circle cx="972.57" cy="135.90" r="2.35" fill="#00ff00" stroke="#00b400" stroke-width="0.8"/>
<circle cx="975.03" cy="135.90" r="2.35" fill="#00ff00" stroke="#00b400" stroke-width="0.8"/>
<circle cx="977.50" cy="135.90" r="2.35" fill="#00ff00" stroke="#00b400" stroke-width="0.8"/>
<circle cx="742.80" cy="147.10" r="2.35" fill="#00ff00" stroke="#00b400" stroke-width="0.8"/>
<circle cx="745.23" cy="147.10" r="2.35" fill="#00ff00" stroke="#00b400" stroke-width="0.8"/>
<circle cx="747.67" cy="147.10" r="2.35" fill="#00ff00" stroke="#00b400" stroke-width="0.8"/>
<circle cx="750.10" cy="147.10" r="2.35" fill="#00ff00" stroke="#00b400" stroke-width="0.8"/>
<circle cx="752.53" cy="147.10" r="2.35" fill="#00ff00" stroke="#00b400" stroke-width="0.8"/>
<circle cx="754.97" cy="147.10" r="2.35" fill="#00ff00" stroke="#00b400" stroke-width="0.8"/>
<circle cx="757.40" cy="147.10" r="2.35" fill="#00ff00" stroke="#00b400" stroke-width="0.8"/>
<circle cx="759.83" cy="147.10" r="2.35" fill="#00ff00" stroke="#00b400" stroke-width="0.8"/>
<circle cx="762.27" cy="147.10" r="2.35" fill="#00ff00" stroke="#00b400" stroke-width="0.8"/>
<circle cx="764.70" cy="147.10" r="2.35" fill="#00ff00" stroke="#00b400" stroke-width="0.8"/>
<circle cx="774.50" cy="147.10" r="2.35" fill="#00ff00" stroke="#00b400" stroke-width="0.8"/>
<circle cx="919.60" cy="147.10" r="2.35" fill="#00ff00" stroke="#00b400" stroke-width="0.8"/>
<circle cx="941.00" cy="147.10" r="2.35" fill="#00ff00" stroke="#00b400" stroke-width="0.8"/>
<circle cx="943.40" cy="147.10" r="2.35" fill="#00ff00" stroke="#00b400" stroke-width="0.8"/>
<circle cx="955.50" cy="147.10" r="2.35" fill="#00ff00" stroke="#00b400" stroke-width="0.8"/>
<circle cx="958.00" cy="147.10" r="2.35" fill="#00ff00" stroke="#00b400" stroke-width="0.8"/>
<circle cx="960.50" cy="147.10" r="2.35" fill="#00ff00" stroke="#00b400" stroke-width="0.8"/>
<circle cx="963.00" cy="147.10" r="2.35" fill="#00ff00" stroke="#00b400" stroke-width="0.8"/>
<circle cx="965.50" cy="147.10" r="2.35" fill="#00ff00" stroke="#00b400" stroke-width="0.8"/>
<circle cx="753.00" cy="205.40" r="2.35" fill="#0000ff" stroke="#0000b8" stroke-width="0.8"/>
<circle cx="758.20" cy="205.40" r="2.35" fill="#0000ff" stroke="#0000b8" stroke-width="0.8"/>
<circle cx="760.03" cy="205.40" r="2.35" fill="#0000ff" stroke="#0000b8" stroke-width="0.8"/>
<circle cx="761.87" cy="205.40" r="2.35" fill="#0000ff" stroke="#0000b8" stroke-width="0.8"/>
<circle cx="763.70" cy="205.40" r="2.35" fill="#0000ff" stroke="#0000b8" stroke-width="0.8"/>
<circle cx="765.53" cy="205.40" r="2.35" fill="#0000ff" stroke="#0000b8" stroke-width="0.8"/>
<circle cx="767.37" cy="205.40" r="2.35" fill="#0000ff" stroke="#0000b8" stroke-width="0.8"/>
<circle cx="769.20" cy="205.40" r="2.35" fill="#0000ff" stroke="#0000b8" stroke-width="0.8"/>
<circle cx="771.03" cy="205.40" r="2.35" fill="#0000ff" stroke="#0000b8" stroke-width="0.8"/>
<circle cx="772.87" cy="205.40" r="2.35" fill="#0000ff" stroke="#0000b8" stroke-width="0.8"/>
<circle cx="774.70" cy="205.40" r="2.35" fill="#0000ff" stroke="#0000b8" stroke-width="0.8"/>
<circle cx="847.80" cy="205.40" r="2.35" fill="#0000ff" stroke="#0000b8" stroke-width="0.8"/>
<circle cx="907.30" cy="205.40" r="2.35" fill="#0000ff" stroke="#0000b8" stroke-width="0.8"/>
<circle cx="909.20" cy="205.40" r="2.35" fill="#0000ff" stroke="#0000b8" stroke-width="0.8"/>
<circle cx="911.10" cy="205.40" r="2.35" fill="#0000ff" stroke="#0000b8" stroke-width="0.8"/>
<circle cx="913.00" cy="205.40" r="2.35" fill="#0000ff" stroke="#0000b8" stroke-width="0.8"/>
<circle cx="925.00" cy="205.40" r="2.35" fill="#0000ff" stroke="#0000b8" stroke-width="0.8"/>
<circle cx="902.90" cy="216.30" r="2.35" fill="#0000ff" stroke="#0000b8" stroke-width="0.8"/>
<rect x="834.70" y="56.80" width="100.60" height="18.20" fill="none" stroke="#00ffff" stroke-width="1.5"/>
<rect x="730.80" y="115.50" width="80.20" height="38.70" fill="none" stroke="#00ffff" stroke-width="1.5"/>
<rect x="894.90" y="115.20" width="87.10" height="42.40" fill="none" stroke="#00ffff" stroke-width="1.5"/>
<rect x="879.80" y="187.60" width="64.30" height="34.60" fill="none" stroke="#00ffff" stroke-width="1.5"/>
<rect x="920.60" y="9.30" width="78.70" height="46.80" fill="#fff" stroke="#a0a0a0" stroke-width="1"/>
<circle cx="933.00" cy="18.00" r="2.8" fill="#ff0000"/>
<text x="944.20" y="22.20" font-size="11.6" text-anchor="start" font-family='"Liberation Sans", sans-serif' >Sonar(S3)</text>
<circle cx="933.00" cy="32.80" r="2.8" fill="#00ff00"/>
<text x="944.20" y="37.00" font-size="11.6" text-anchor="start" font-family='"Liberation Sans", sans-serif' >Sonar(S9)</text>
<circle cx="933.00" cy="47.70" r="2.8" fill="#0000ff"/>
<text x="944.20" y="51.90" font-size="11.6" text-anchor="start" font-family='"Liberation Sans", sans-serif' >Sonar(S6)</text>
<text x="165.00" y="293.30" font-size="24" text-anchor="middle" font-family='"Liberation Serif", serif'>(<tspan font-weight="bold">a</tspan>)</text>
<text x="503.30" y="293.30" font-size="24" text-anchor="middle" font-family='"Liberation Serif", serif'>(<tspan font-weight="bold">b</tspan>)</text>
<text x="841.60" y="293.30" font-size="24" text-anchor="middle" font-family='"Liberation Serif", serif'>(<tspan font-weight="bold">c</tspan>)</text>
<text x="334.00" y="608.00" font-size="24" text-anchor="middle" font-family='"Liberation Serif", serif'>(<tspan font-weight="bold">d</tspan>)</text>
<text x="672.40" y="608.00" font-size="24" text-anchor="middle" font-family='"Liberation Serif", serif'>(<tspan font-weight="bold">e</tspan>)</text>
<line x1="263.15" y1="325.00" x2="263.15" y2="383.00" stroke="#dcdcdc" stroke-width="1" stroke-dasharray="1 1.85"/>
<line x1="305.69" y1="325.00" x2="305.69" y2="383.00" stroke="#dcdcdc" stroke-width="1" stroke-dasharray="1 1.85"/>
<line x1="348.24" y1="325.00" x2="348.24" y2="383.00" stroke="#dcdcdc" stroke-width="1" stroke-dasharray="1 1.85"/>
<line x1="390.79" y1="325.00" x2="390.79" y2="383.00" stroke="#dcdcdc" stroke-width="1" stroke-dasharray="1 1.85"/>
<line x1="433.33" y1="325.00" x2="433.33" y2="383.00" stroke="#dcdcdc" stroke-width="1" stroke-dasharray="1 1.85"/>
<line x1="475.88" y1="325.00" x2="475.88" y2="383.00" stroke="#dcdcdc" stroke-width="1" stroke-dasharray="1 1.85"/>
<line x1="220.60" y1="338.70" x2="492.90" y2="338.70" stroke="#dcdcdc" stroke-width="1" stroke-dasharray="1 1.85"/>
<line x1="220.60" y1="379.20" x2="492.90" y2="379.20" stroke="#dcdcdc" stroke-width="1" stroke-dasharray="1 1.85"/>
<rect x="220.60" y="325.00" width="272.30" height="58.00" fill="none" stroke="#959595" stroke-width="0.8"/>
<text x="220.60" y="397.00" font-size="12" text-anchor="middle" font-family='"Liberation Sans", sans-serif' >0</text>
<line x1="263.15" y1="383.00" x2="263.15" y2="380.50" stroke="#959595" stroke-width="1" />
<line x1="263.15" y1="325.00" x2="263.15" y2="327.50" stroke="#959595" stroke-width="1" />
<text x="263.15" y="397.00" font-size="12" text-anchor="middle" font-family='"Liberation Sans", sans-serif' >20</text>
<line x1="305.69" y1="383.00" x2="305.69" y2="380.50" stroke="#959595" stroke-width="1" />
<line x1="305.69" y1="325.00" x2="305.69" y2="327.50" stroke="#959595" stroke-width="1" />
<text x="305.69" y="397.00" font-size="12" text-anchor="middle" font-family='"Liberation Sans", sans-serif' >40</text>
<line x1="348.24" y1="383.00" x2="348.24" y2="380.50" stroke="#959595" stroke-width="1" />
<line x1="348.24" y1="325.00" x2="348.24" y2="327.50" stroke="#959595" stroke-width="1" />
<text x="348.24" y="397.00" font-size="12" text-anchor="middle" font-family='"Liberation Sans", sans-serif' >60</text>
<line x1="390.79" y1="383.00" x2="390.79" y2="380.50" stroke="#959595" stroke-width="1" />
<line x1="390.79" y1="325.00" x2="390.79" y2="327.50" stroke="#959595" stroke-width="1" />
<text x="390.79" y="397.00" font-size="12" text-anchor="middle" font-family='"Liberation Sans", sans-serif' >80</text>
<line x1="433.33" y1="383.00" x2="433.33" y2="380.50" stroke="#959595" stroke-width="1" />
<line x1="433.33" y1="325.00" x2="433.33" y2="327.50" stroke="#959595" stroke-width="1" />
<text x="433.33" y="397.00" font-size="12" text-anchor="middle" font-family='"Liberation Sans", sans-serif' >100</text>
<line x1="475.88" y1="383.00" x2="475.88" y2="380.50" stroke="#959595" stroke-width="1" />
<line x1="475.88" y1="325.00" x2="475.88" y2="327.50" stroke="#959595" stroke-width="1" />
<text x="475.88" y="397.00" font-size="12" text-anchor="middle" font-family='"Liberation Sans", sans-serif' >120</text>
<line x1="220.60" y1="338.70" x2="223.10" y2="338.70" stroke="#959595" stroke-width="1" />
<line x1="492.90" y1="338.70" x2="490.40" y2="338.70" stroke="#959595" stroke-width="1" />
<text x="218.20" y="343.00" font-size="12" text-anchor="end" font-family='"Liberation Sans", sans-serif' >1000</text>
<line x1="220.60" y1="379.20" x2="223.10" y2="379.20" stroke="#959595" stroke-width="1" />
<line x1="492.90" y1="379.20" x2="490.40" y2="379.20" stroke="#959595" stroke-width="1" />
<text x="218.20" y="383.50" font-size="12" text-anchor="end" font-family='"Liberation Sans", sans-serif' >500</text>
<path d="M243.9 383.0 L252.3 383.0 L277.4 368.8 L284.0 368.8 L291.4 369.6 L300.4 368.4 L324.5 367.2 L331.5 365.4 L357.6 351.5 L400.0 351.7 L415.2 352.3 L433.3 351.7 L442.3 350.3 L452.3 344.5 L491.5 325.0" fill="none" stroke="#0000ff" stroke-width="1.3" stroke-linejoin="round"/>
<text transform="translate(179.8,354.0) rotate(-90)" font-size="12.3" text-anchor="middle" font-family='"Liberation Sans", sans-serif'>p<tspan dy="6.5" font-size="10.5">x</tspan><tspan dy="-6.5" dx="0.8"> </tspan>(cm)</text>
<line x1="263.15" y1="405.60" x2="263.15" y2="463.00" stroke="#dcdcdc" stroke-width="1" stroke-dasharray="1 1.85"/>
<line x1="305.69" y1="405.60" x2="305.69" y2="463.00" stroke="#dcdcdc" stroke-width="1" stroke-dasharray="1 1.85"/>
<line x1="348.24" y1="405.60" x2="348.24" y2="463.00" stroke="#dcdcdc" stroke-width="1" stroke-dasharray="1 1.85"/>
<line x1="390.79" y1="405.60" x2="390.79" y2="463.00" stroke="#dcdcdc" stroke-width="1" stroke-dasharray="1 1.85"/>
<line x1="433.33" y1="405.60" x2="433.33" y2="463.00" stroke="#dcdcdc" stroke-width="1" stroke-dasharray="1 1.85"/>
<line x1="475.88" y1="405.60" x2="475.88" y2="463.00" stroke="#dcdcdc" stroke-width="1" stroke-dasharray="1 1.85"/>
<line x1="220.60" y1="419.30" x2="492.90" y2="419.30" stroke="#dcdcdc" stroke-width="1" stroke-dasharray="1 1.85"/>
<line x1="220.60" y1="437.70" x2="492.90" y2="437.70" stroke="#dcdcdc" stroke-width="1" stroke-dasharray="1 1.85"/>
<line x1="220.60" y1="456.20" x2="492.90" y2="456.20" stroke="#dcdcdc" stroke-width="1" stroke-dasharray="1 1.85"/>
<rect x="220.60" y="405.60" width="272.30" height="57.40" fill="none" stroke="#959595" stroke-width="0.8"/>
<text x="220.60" y="477.00" font-size="12" text-anchor="middle" font-family='"Liberation Sans", sans-serif' >0</text>
<line x1="263.15" y1="463.00" x2="263.15" y2="460.50" stroke="#959595" stroke-width="1" />
<line x1="263.15" y1="405.60" x2="263.15" y2="408.10" stroke="#959595" stroke-width="1" />
<text x="263.15" y="477.00" font-size="12" text-anchor="middle" font-family='"Liberation Sans", sans-serif' >20</text>
<line x1="305.69" y1="463.00" x2="305.69" y2="460.50" stroke="#959595" stroke-width="1" />
<line x1="305.69" y1="405.60" x2="305.69" y2="408.10" stroke="#959595" stroke-width="1" />
<text x="305.69" y="477.00" font-size="12" text-anchor="middle" font-family='"Liberation Sans", sans-serif' >40</text>
<line x1="348.24" y1="463.00" x2="348.24" y2="460.50" stroke="#959595" stroke-width="1" />
<line x1="348.24" y1="405.60" x2="348.24" y2="408.10" stroke="#959595" stroke-width="1" />
<text x="348.24" y="477.00" font-size="12" text-anchor="middle" font-family='"Liberation Sans", sans-serif' >60</text>
<line x1="390.79" y1="463.00" x2="390.79" y2="460.50" stroke="#959595" stroke-width="1" />
<line x1="390.79" y1="405.60" x2="390.79" y2="408.10" stroke="#959595" stroke-width="1" />
<text x="390.79" y="477.00" font-size="12" text-anchor="middle" font-family='"Liberation Sans", sans-serif' >80</text>
<line x1="433.33" y1="463.00" x2="433.33" y2="460.50" stroke="#959595" stroke-width="1" />
<line x1="433.33" y1="405.60" x2="433.33" y2="408.10" stroke="#959595" stroke-width="1" />
<text x="433.33" y="477.00" font-size="12" text-anchor="middle" font-family='"Liberation Sans", sans-serif' >100</text>
<line x1="475.88" y1="463.00" x2="475.88" y2="460.50" stroke="#959595" stroke-width="1" />
<line x1="475.88" y1="405.60" x2="475.88" y2="408.10" stroke="#959595" stroke-width="1" />
<text x="475.88" y="477.00" font-size="12" text-anchor="middle" font-family='"Liberation Sans", sans-serif' >120</text>
<line x1="220.60" y1="419.30" x2="223.10" y2="419.30" stroke="#959595" stroke-width="1" />
<line x1="492.90" y1="419.30" x2="490.40" y2="419.30" stroke="#959595" stroke-width="1" />
<text x="218.20" y="423.60" font-size="12" text-anchor="end" font-family='"Liberation Sans", sans-serif' >400</text>
<line x1="220.60" y1="437.70" x2="223.10" y2="437.70" stroke="#959595" stroke-width="1" />
<line x1="492.90" y1="437.70" x2="490.40" y2="437.70" stroke="#959595" stroke-width="1" />
<text x="218.20" y="442.00" font-size="12" text-anchor="end" font-family='"Liberation Sans", sans-serif' >350</text>
<line x1="220.60" y1="456.20" x2="223.10" y2="456.20" stroke="#959595" stroke-width="1" />
<line x1="492.90" y1="456.20" x2="490.40" y2="456.20" stroke="#959595" stroke-width="1" />
<text x="218.20" y="460.50" font-size="12" text-anchor="end" font-family='"Liberation Sans", sans-serif' >300</text>
<path d="M244.3 458.2 L245.3 456.8 L260.3 455.8 L266.3 456.8 L277.4 460.2 L286.4 461.4 L290.4 454.2 L293.4 452.8 L299.4 440.5 L301.4 438.1 L314.5 406.0 L324.0 405.8 L328.1 410.7 L331.5 411.0 L348.0 407.7 L356.0 409.9 L360.0 409.5 L399.2 409.5 L401.2 410.7 L423.9 463.0 L432.7 463.0 L437.3 456.2 L441.3 455.4 L454.3 458.8 L460.4 456.8 L474.4 454.8 L480.4 455.6 L491.9 459.8" fill="none" stroke="#0000ff" stroke-width="1.3" stroke-linejoin="round"/>
<text transform="translate(187.2,434.3) rotate(-90)" font-size="12.3" text-anchor="middle" font-family='"Liberation Sans", sans-serif'>p<tspan dy="6.5" font-size="10.5">y</tspan><tspan dy="-6.5" dx="0.8"> </tspan>(cm)</text>
<line x1="263.15" y1="486.00" x2="263.15" y2="543.60" stroke="#dcdcdc" stroke-width="1" stroke-dasharray="1 1.85"/>
<line x1="305.69" y1="486.00" x2="305.69" y2="543.60" stroke="#dcdcdc" stroke-width="1" stroke-dasharray="1 1.85"/>
<line x1="348.24" y1="486.00" x2="348.24" y2="543.60" stroke="#dcdcdc" stroke-width="1" stroke-dasharray="1 1.85"/>
<line x1="390.79" y1="486.00" x2="390.79" y2="543.60" stroke="#dcdcdc" stroke-width="1" stroke-dasharray="1 1.85"/>
<line x1="433.33" y1="486.00" x2="433.33" y2="543.60" stroke="#dcdcdc" stroke-width="1" stroke-dasharray="1 1.85"/>
<line x1="475.88" y1="486.00" x2="475.88" y2="543.60" stroke="#dcdcdc" stroke-width="1" stroke-dasharray="1 1.85"/>
<line x1="220.60" y1="497.50" x2="492.90" y2="497.50" stroke="#dcdcdc" stroke-width="1" stroke-dasharray="1 1.85"/>
<rect x="220.60" y="486.00" width="272.30" height="57.60" fill="none" stroke="#959595" stroke-width="0.8"/>
<text x="220.60" y="557.60" font-size="12" text-anchor="middle" font-family='"Liberation Sans", sans-serif' >0</text>
<line x1="263.15" y1="543.60" x2="263.15" y2="541.10" stroke="#959595" stroke-width="1" />
<line x1="263.15" y1="486.00" x2="263.15" y2="488.50" stroke="#959595" stroke-width="1" />
<text x="263.15" y="557.60" font-size="12" text-anchor="middle" font-family='"Liberation Sans", sans-serif' >20</text>
<line x1="305.69" y1="543.60" x2="305.69" y2="541.10" stroke="#959595" stroke-width="1" />
<line x1="305.69" y1="486.00" x2="305.69" y2="488.50" stroke="#959595" stroke-width="1" />
<text x="305.69" y="557.60" font-size="12" text-anchor="middle" font-family='"Liberation Sans", sans-serif' >40</text>
<line x1="348.24" y1="543.60" x2="348.24" y2="541.10" stroke="#959595" stroke-width="1" />
<line x1="348.24" y1="486.00" x2="348.24" y2="488.50" stroke="#959595" stroke-width="1" />
<text x="348.24" y="557.60" font-size="12" text-anchor="middle" font-family='"Liberation Sans", sans-serif' >60</text>
<line x1="390.79" y1="543.60" x2="390.79" y2="541.10" stroke="#959595" stroke-width="1" />
<line x1="390.79" y1="486.00" x2="390.79" y2="488.50" stroke="#959595" stroke-width="1" />
<text x="390.79" y="557.60" font-size="12" text-anchor="middle" font-family='"Liberation Sans", sans-serif' >80</text>
<line x1="433.33" y1="543.60" x2="433.33" y2="541.10" stroke="#959595" stroke-width="1" />
<line x1="433.33" y1="486.00" x2="433.33" y2="488.50" stroke="#959595" stroke-width="1" />
<text x="433.33" y="557.60" font-size="12" text-anchor="middle" font-family='"Liberation Sans", sans-serif' >100</text>
<line x1="475.88" y1="543.60" x2="475.88" y2="541.10" stroke="#959595" stroke-width="1" />
<line x1="475.88" y1="486.00" x2="475.88" y2="488.50" stroke="#959595" stroke-width="1" />
<text x="475.88" y="557.60" font-size="12" text-anchor="middle" font-family='"Liberation Sans", sans-serif' >120</text>
<line x1="220.60" y1="497.50" x2="223.10" y2="497.50" stroke="#959595" stroke-width="1" />
<line x1="492.90" y1="497.50" x2="490.40" y2="497.50" stroke="#959595" stroke-width="1" />
<text x="218.20" y="501.80" font-size="12" text-anchor="end" font-family='"Liberation Sans", sans-serif' >5</text>
<line x1="220.60" y1="543.60" x2="223.10" y2="543.60" stroke="#959595" stroke-width="1" />
<line x1="492.90" y1="543.60" x2="490.40" y2="543.60" stroke="#959595" stroke-width="1" />
<text x="218.20" y="547.90" font-size="12" text-anchor="end" font-family='"Liberation Sans", sans-serif' >0</text>
<path d="M243.9 543.3 L262.3 543.3 L263.1 486.2 L272.3 487.0 L278.0 486.4 L278.8 543.4 L286.4 525.2 L289.4 524.8 L294.4 532.8 L296.4 533.2 L301.4 529.8 L314.5 530.8 L321.1 543.4 L321.7 486.2 L324.9 491.7 L327.5 491.7 L330.9 486.2 L331.7 543.4 L348.0 543.4 L348.8 486.2 L356.4 486.6 L357.3 543.4 L357.8 486.2 L358.4 486.4 L361.0 492.5 L397.2 492.5 L401.8 501.7 L419.2 499.5 L423.9 499.5 L429.9 487.0 L430.7 543.4 L434.3 534.6 L436.7 534.6 L441.3 543.4 L441.9 486.4 L453.9 486.4 L454.7 543.4 L457.4 541.6 L465.4 543.4 L472.4 543.4 L473.2 486.2 L491.9 486.8" fill="none" stroke="#0000ff" stroke-width="1.3" stroke-linejoin="round"/>
<text transform="translate(200.5,514.8) rotate(-90)" font-size="12.3" text-anchor="middle" font-family='"Liberation Sans", sans-serif'>p<tspan dy="5.5" font-size="9">θ</tspan><tspan dy="-5.5" dx="0.8"> </tspan>(rad)</text>
<text x="356.75" y="568.90" font-size="12.5" text-anchor="middle" font-family='"Liberation Sans", sans-serif' >Time (sec)</text>
<line x1="602.48" y1="325.00" x2="602.48" y2="383.00" stroke="#dcdcdc" stroke-width="1" stroke-dasharray="1 1.85"/>
<line x1="644.76" y1="325.00" x2="644.76" y2="383.00" stroke="#dcdcdc" stroke-width="1" stroke-dasharray="1 1.85"/>
<line x1="687.04" y1="325.00" x2="687.04" y2="383.00" stroke="#dcdcdc" stroke-width="1" stroke-dasharray="1 1.85"/>
<line x1="729.33" y1="325.00" x2="729.33" y2="383.00" stroke="#dcdcdc" stroke-width="1" stroke-dasharray="1 1.85"/>
<line x1="771.61" y1="325.00" x2="771.61" y2="383.00" stroke="#dcdcdc" stroke-width="1" stroke-dasharray="1 1.85"/>
<line x1="813.89" y1="325.00" x2="813.89" y2="383.00" stroke="#dcdcdc" stroke-width="1" stroke-dasharray="1 1.85"/>
<line x1="560.20" y1="329.50" x2="830.80" y2="329.50" stroke="#dcdcdc" stroke-width="1" stroke-dasharray="1 1.85"/>
<line x1="560.20" y1="365.20" x2="830.80" y2="365.20" stroke="#dcdcdc" stroke-width="1" stroke-dasharray="1 1.85"/>
<rect x="560.20" y="325.00" width="270.60" height="58.00" fill="none" stroke="#959595" stroke-width="0.8"/>
<text x="560.20" y="397.00" font-size="12" text-anchor="middle" font-family='"Liberation Sans", sans-serif' >0</text>
<line x1="602.48" y1="383.00" x2="602.48" y2="380.50" stroke="#959595" stroke-width="1" />
<line x1="602.48" y1="325.00" x2="602.48" y2="327.50" stroke="#959595" stroke-width="1" />
<text x="602.48" y="397.00" font-size="12" text-anchor="middle" font-family='"Liberation Sans", sans-serif' >20</text>
<line x1="644.76" y1="383.00" x2="644.76" y2="380.50" stroke="#959595" stroke-width="1" />
<line x1="644.76" y1="325.00" x2="644.76" y2="327.50" stroke="#959595" stroke-width="1" />
<text x="644.76" y="397.00" font-size="12" text-anchor="middle" font-family='"Liberation Sans", sans-serif' >40</text>
<line x1="687.04" y1="383.00" x2="687.04" y2="380.50" stroke="#959595" stroke-width="1" />
<line x1="687.04" y1="325.00" x2="687.04" y2="327.50" stroke="#959595" stroke-width="1" />
<text x="687.04" y="397.00" font-size="12" text-anchor="middle" font-family='"Liberation Sans", sans-serif' >60</text>
<line x1="729.33" y1="383.00" x2="729.33" y2="380.50" stroke="#959595" stroke-width="1" />
<line x1="729.33" y1="325.00" x2="729.33" y2="327.50" stroke="#959595" stroke-width="1" />
<text x="729.33" y="397.00" font-size="12" text-anchor="middle" font-family='"Liberation Sans", sans-serif' >80</text>
<line x1="771.61" y1="383.00" x2="771.61" y2="380.50" stroke="#959595" stroke-width="1" />
<line x1="771.61" y1="325.00" x2="771.61" y2="327.50" stroke="#959595" stroke-width="1" />
<text x="771.61" y="397.00" font-size="12" text-anchor="middle" font-family='"Liberation Sans", sans-serif' >100</text>
<line x1="813.89" y1="383.00" x2="813.89" y2="380.50" stroke="#959595" stroke-width="1" />
<line x1="813.89" y1="325.00" x2="813.89" y2="327.50" stroke="#959595" stroke-width="1" />
<text x="813.89" y="397.00" font-size="12" text-anchor="middle" font-family='"Liberation Sans", sans-serif' >120</text>
<line x1="560.20" y1="329.50" x2="562.70" y2="329.50" stroke="#959595" stroke-width="1" />
<line x1="830.80" y1="329.50" x2="828.30" y2="329.50" stroke="#959595" stroke-width="1" />
<text x="557.80" y="333.80" font-size="12" text-anchor="end" font-family='"Liberation Sans", sans-serif' >40</text>
<line x1="560.20" y1="365.20" x2="562.70" y2="365.20" stroke="#959595" stroke-width="1" />
<line x1="830.80" y1="365.20" x2="828.30" y2="365.20" stroke="#959595" stroke-width="1" />
<text x="557.80" y="369.50" font-size="12" text-anchor="end" font-family='"Liberation Sans", sans-serif' >30</text>
<path d="M583.2 383.0 L590.3 383.0 L597.7 379.8 L620.4 376.2 L626.8 376.0 L630.4 372.8 L632.4 374.0 L638.0 367.2 L639.4 368.2 L644.8 359.7 L645.8 360.5 L648.4 355.7 L649.4 356.7 L651.9 349.5 L652.9 351.1 L654.5 347.7 L656.5 351.1 L659.5 351.5 L661.5 349.7 L692.6 344.1 L700.0 341.5 L736.2 341.1 L741.2 339.7 L743.4 335.5 L743.7 336.8 L745.8 331.9 L746.1 333.3 L748.1 328.4 L748.4 329.7 L750.5 324.8 L750.6 325.4 L752.6 325.4 L753.0 338.5 L755.2 336.1 L757.1 332.1 L757.4 333.5 L759.1 328.8 L759.4 330.1 L761.1 325.4 L761.2 326.0 L764.3 329.0 L769.3 332.5 L774.3 333.1 L784.3 330.0 L794.3 328.0 L794.7 332.5 L798.4 332.0 L820.4 328.0 L830.5 325.4" fill="none" stroke="#0000ff" stroke-width="1.3" stroke-linejoin="round"/>
<text transform="translate(533.0,354.0) rotate(-90)" font-size="12.3" text-anchor="middle" font-family='"Liberation Sans", sans-serif'>σ<tspan dy="7" font-size="10.5">xx</tspan><tspan dy="-7" dx="0.8"> </tspan>(cm<tspan dy="-6.3" font-size="10.5">2</tspan><tspan dy="6.3">)</tspan></text>
<line x1="602.48" y1="405.60" x2="602.48" y2="463.00" stroke="#dcdcdc" stroke-width="1" stroke-dasharray="1 1.85"/>
<line x1="644.76" y1="405.60" x2="644.76" y2="463.00" stroke="#dcdcdc" stroke-width="1" stroke-dasharray="1 1.85"/>
<line x1="687.04" y1="405.60" x2="687.04" y2="463.00" stroke="#dcdcdc" stroke-width="1" stroke-dasharray="1 1.85"/>
<line x1="729.33" y1="405.60" x2="729.33" y2="463.00" stroke="#dcdcdc" stroke-width="1" stroke-dasharray="1 1.85"/>
<line x1="771.61" y1="405.60" x2="771.61" y2="463.00" stroke="#dcdcdc" stroke-width="1" stroke-dasharray="1 1.85"/>
<line x1="813.89" y1="405.60" x2="813.89" y2="463.00" stroke="#dcdcdc" stroke-width="1" stroke-dasharray="1 1.85"/>
<line x1="560.20" y1="418.70" x2="830.80" y2="418.70" stroke="#dcdcdc" stroke-width="1" stroke-dasharray="1 1.85"/>
<line x1="560.20" y1="431.50" x2="830.80" y2="431.50" stroke="#dcdcdc" stroke-width="1" stroke-dasharray="1 1.85"/>
<line x1="560.20" y1="444.20" x2="830.80" y2="444.20" stroke="#dcdcdc" stroke-width="1" stroke-dasharray="1 1.85"/>
<line x1="560.20" y1="457.20" x2="830.80" y2="457.20" stroke="#dcdcdc" stroke-width="1" stroke-dasharray="1 1.85"/>
<rect x="560.20" y="405.60" width="270.60" height="57.40" fill="none" stroke="#959595" stroke-width="0.8"/>
<text x="560.20" y="477.00" font-size="12" text-anchor="middle" font-family='"Liberation Sans", sans-serif' >0</text>
<line x1="602.48" y1="463.00" x2="602.48" y2="460.50" stroke="#959595" stroke-width="1" />
<line x1="602.48" y1="405.60" x2="602.48" y2="408.10" stroke="#959595" stroke-width="1" />
<text x="602.48" y="477.00" font-size="12" text-anchor="middle" font-family='"Liberation Sans", sans-serif' >20</text>
<line x1="644.76" y1="463.00" x2="644.76" y2="460.50" stroke="#959595" stroke-width="1" />
<line x1="644.76" y1="405.60" x2="644.76" y2="408.10" stroke="#959595" stroke-width="1" />
<text x="644.76" y="477.00" font-size="12" text-anchor="middle" font-family='"Liberation Sans", sans-serif' >40</text>
<line x1="687.04" y1="463.00" x2="687.04" y2="460.50" stroke="#959595" stroke-width="1" />
<line x1="687.04" y1="405.60" x2="687.04" y2="408.10" stroke="#959595" stroke-width="1" />
<text x="687.04" y="477.00" font-size="12" text-anchor="middle" font-family='"Liberation Sans", sans-serif' >60</text>
<line x1="729.33" y1="463.00" x2="729.33" y2="460.50" stroke="#959595" stroke-width="1" />
<line x1="729.33" y1="405.60" x2="729.33" y2="408.10" stroke="#959595" stroke-width="1" />
<text x="729.33" y="477.00" font-size="12" text-anchor="middle" font-family='"Liberation Sans", sans-serif' >80</text>
<line x1="771.61" y1="463.00" x2="771.61" y2="460.50" stroke="#959595" stroke-width="1" />
<line x1="771.61" y1="405.60" x2="771.61" y2="408.10" stroke="#959595" stroke-width="1" />
<text x="771.61" y="477.00" font-size="12" text-anchor="middle" font-family='"Liberation Sans", sans-serif' >100</text>
<line x1="813.89" y1="463.00" x2="813.89" y2="460.50" stroke="#959595" stroke-width="1" />
<line x1="813.89" y1="405.60" x2="813.89" y2="408.10" stroke="#959595" stroke-width="1" />
<text x="813.89" y="477.00" font-size="12" text-anchor="middle" font-family='"Liberation Sans", sans-serif' >120</text>
<line x1="560.20" y1="406.40" x2="562.70" y2="406.40" stroke="#959595" stroke-width="1" />
<line x1="830.80" y1="406.40" x2="828.30" y2="406.40" stroke="#959595" stroke-width="1" />
<text x="557.80" y="410.70" font-size="12" text-anchor="end" font-family='"Liberation Sans", sans-serif' >25</text>
<line x1="560.20" y1="418.70" x2="562.70" y2="418.70" stroke="#959595" stroke-width="1" />
<line x1="830.80" y1="418.70" x2="828.30" y2="418.70" stroke="#959595" stroke-width="1" />
<text x="557.80" y="423.00" font-size="12" text-anchor="end" font-family='"Liberation Sans", sans-serif' >20</text>
<line x1="560.20" y1="431.50" x2="562.70" y2="431.50" stroke="#959595" stroke-width="1" />
<line x1="830.80" y1="431.50" x2="828.30" y2="431.50" stroke="#959595" stroke-width="1" />
<text x="557.80" y="435.80" font-size="12" text-anchor="end" font-family='"Liberation Sans", sans-serif' >15</text>
<line x1="560.20" y1="444.20" x2="562.70" y2="444.20" stroke="#959595" stroke-width="1" />
<line x1="830.80" y1="444.20" x2="828.30" y2="444.20" stroke="#959595" stroke-width="1" />
<text x="557.80" y="448.50" font-size="12" text-anchor="end" font-family='"Liberation Sans", sans-serif' >10</text>
<line x1="560.20" y1="457.20" x2="562.70" y2="457.20" stroke="#959595" stroke-width="1" />
<line x1="830.80" y1="457.20" x2="828.30" y2="457.20" stroke="#959595" stroke-width="1" />
<text x="557.80" y="461.50" font-size="12" text-anchor="end" font-family='"Liberation Sans", sans-serif' >5</text>
<path d="M584.0 405.6 L584.5 448.2 L586.7 448.6 L587.5 456.2 L589.3 457.2 L590.3 460.2 L593.3 462.6 L595.6 462.2 L595.9 463.0 L598.1 462.1 L598.4 462.9 L600.6 462.0 L600.9 462.8 L603.1 462.0 L603.4 462.8 L605.6 461.9 L605.9 462.7 L608.1 461.8 L608.3 462.2 L617.0 454.6 L617.6 460.2 L622.4 460.6 L640.4 457.6 L664.5 455.2 L670.5 453.8 L674.5 450.2 L677.0 446.8 L677.3 448.0 L679.7 444.0 L680.0 445.2 L682.4 441.1 L682.7 442.3 L685.1 438.3 L685.4 439.5 L687.8 435.5 L688.1 436.7 L690.5 432.6 L690.8 433.8 L693.2 429.8 L693.5 431.0 L695.9 426.9 L696.0 427.5 L697.7 429.1 L710.1 430.1 L735.8 430.1 L741.2 427.5 L751.2 426.5 L752.2 442.2 L753.2 448.2 L762.6 447.4 L763.3 454.2 L768.7 453.8 L769.5 457.8 L781.3 455.8 L783.5 453.1 L783.8 454.1 L785.9 450.9 L786.1 451.8 L788.2 448.6 L788.5 449.6 L790.6 446.4 L790.7 446.8 L791.9 452.6 L793.3 453.2 L794.7 456.2 L797.2 453.2 L797.5 454.2 L799.9 450.8 L800.2 451.7 L802.6 448.2 L802.9 449.2 L805.2 445.8 L805.4 446.2 L806.8 454.6 L808.4 453.8 L810.0 458.6 L812.1 459.2 L812.4 460.2 L814.4 460.3 L814.7 461.3 L816.6 461.4 L816.8 461.8 L822.4 457.2 L824.5 453.4 L824.8 454.4 L826.6 450.1 L826.9 451.1 L828.9 446.8 L829.0 447.2 L830.5 450.2" fill="none" stroke="#0000ff" stroke-width="1.3" stroke-linejoin="round"/>
<text transform="translate(533.0,434.3) rotate(-90)" font-size="12.3" text-anchor="middle" font-family='"Liberation Sans", sans-serif'>σ<tspan dy="7" font-size="10.5">yy</tspan><tspan dy="-7" dx="0.8"> </tspan>(cm<tspan dy="-6.3" font-size="10.5">2</tspan><tspan dy="6.3">)</tspan></text>
<line x1="602.48" y1="486.00" x2="602.48" y2="543.60" stroke="#dcdcdc" stroke-width="1" stroke-dasharray="1 1.85"/>
<line x1="644.76" y1="486.00" x2="644.76" y2="543.60" stroke="#dcdcdc" stroke-width="1" stroke-dasharray="1 1.85"/>
<line x1="687.04" y1="486.00" x2="687.04" y2="543.60" stroke="#dcdcdc" stroke-width="1" stroke-dasharray="1 1.85"/>
<line x1="729.33" y1="486.00" x2="729.33" y2="543.60" stroke="#dcdcdc" stroke-width="1" stroke-dasharray="1 1.85"/>
<line x1="771.61" y1="486.00" x2="771.61" y2="543.60" stroke="#dcdcdc" stroke-width="1" stroke-dasharray="1 1.85"/>
<line x1="813.89" y1="486.00" x2="813.89" y2="543.60" stroke="#dcdcdc" stroke-width="1" stroke-dasharray="1 1.85"/>
<line x1="560.20" y1="487.20" x2="830.80" y2="487.20" stroke="#dcdcdc" stroke-width="1" stroke-dasharray="1 1.85"/>
<line x1="560.20" y1="506.10" x2="830.80" y2="506.10" stroke="#dcdcdc" stroke-width="1" stroke-dasharray="1 1.85"/>
<line x1="560.20" y1="525.20" x2="830.80" y2="525.20" stroke="#dcdcdc" stroke-width="1" stroke-dasharray="1 1.85"/>
<rect x="560.20" y="486.00" width="270.60" height="57.60" fill="none" stroke="#959595" stroke-width="0.8"/>
<text x="560.20" y="557.60" font-size="12" text-anchor="middle" font-family='"Liberation Sans", sans-serif' >0</text>
<line x1="602.48" y1="543.60" x2="602.48" y2="541.10" stroke="#959595" stroke-width="1" />
<line x1="602.48" y1="486.00" x2="602.48" y2="488.50" stroke="#959595" stroke-width="1" />
<text x="602.48" y="557.60" font-size="12" text-anchor="middle" font-family='"Liberation Sans", sans-serif' >20</text>
<line x1="644.76" y1="543.60" x2="644.76" y2="541.10" stroke="#959595" stroke-width="1" />
<line x1="644.76" y1="486.00" x2="644.76" y2="488.50" stroke="#959595" stroke-width="1" />
<text x="644.76" y="557.60" font-size="12" text-anchor="middle" font-family='"Liberation Sans", sans-serif' >40</text>
<line x1="687.04" y1="543.60" x2="687.04" y2="541.10" stroke="#959595" stroke-width="1" />
<line x1="687.04" y1="486.00" x2="687.04" y2="488.50" stroke="#959595" stroke-width="1" />
<text x="687.04" y="557.60" font-size="12" text-anchor="middle" font-family='"Liberation Sans", sans-serif' >60</text>
<line x1="729.33" y1="543.60" x2="729.33" y2="541.10" stroke="#959595" stroke-width="1" />
<line x1="729.33" y1="486.00" x2="729.33" y2="488.50" stroke="#959595" stroke-width="1" />
<text x="729.33" y="557.60" font-size="12" text-anchor="middle" font-family='"Liberation Sans", sans-serif' >80</text>
<line x1="771.61" y1="543.60" x2="771.61" y2="541.10" stroke="#959595" stroke-width="1" />
<line x1="771.61" y1="486.00" x2="771.61" y2="488.50" stroke="#959595" stroke-width="1" />
<text x="771.61" y="557.60" font-size="12" text-anchor="middle" font-family='"Liberation Sans", sans-serif' >100</text>
<line x1="813.89" y1="543.60" x2="813.89" y2="541.10" stroke="#959595" stroke-width="1" />
<line x1="813.89" y1="486.00" x2="813.89" y2="488.50" stroke="#959595" stroke-width="1" />
<text x="813.89" y="557.60" font-size="12" text-anchor="middle" font-family='"Liberation Sans", sans-serif' >120</text>
<line x1="560.20" y1="487.20" x2="562.70" y2="487.20" stroke="#959595" stroke-width="1" />
<line x1="830.80" y1="487.20" x2="828.30" y2="487.20" stroke="#959595" stroke-width="1" />
<text x="557.80" y="491.50" font-size="12" text-anchor="end" font-family='"Liberation Sans", sans-serif' >0.03</text>
<line x1="560.20" y1="506.10" x2="562.70" y2="506.10" stroke="#959595" stroke-width="1" />
<line x1="830.80" y1="506.10" x2="828.30" y2="506.10" stroke="#959595" stroke-width="1" />
<text x="557.80" y="510.40" font-size="12" text-anchor="end" font-family='"Liberation Sans", sans-serif' >0.02</text>
<line x1="560.20" y1="525.20" x2="562.70" y2="525.20" stroke="#959595" stroke-width="1" />
<line x1="830.80" y1="525.20" x2="828.30" y2="525.20" stroke="#959595" stroke-width="1" />
<text x="557.80" y="529.50" font-size="12" text-anchor="end" font-family='"Liberation Sans", sans-serif' >0.01</text>
<path d="M583.7 486.0 L584.0 539.2 L587.3 539.6 L588.3 541.6 L596.3 542.6 L599.2 542.3 L599.5 543.0 L602.2 542.3 L602.5 543.0 L605.2 542.3 L605.5 543.0 L608.2 542.3 L608.5 543.0 L611.2 542.3 L611.5 543.0 L614.2 542.3 L614.5 543.0 L617.2 542.3 L617.5 543.0 L620.2 542.3 L620.4 542.6 L626.4 540.2 L630.8 537.2 L632.4 540.6 L640.4 541.8 L643.5 541.6 L643.8 542.2 L646.7 541.7 L647.0 542.3 L649.9 541.7 L650.2 542.4 L653.1 541.8 L653.4 542.5 L656.4 541.9 L656.5 542.2 L661.5 537.8 L662.9 540.6 L670.5 541.8 L673.5 541.6 L673.8 542.2 L676.7 541.6 L677.0 542.3 L679.8 541.7 L680.1 542.3 L683.0 541.7 L683.3 542.4 L686.1 541.8 L686.4 542.4 L689.3 541.8 L689.6 542.5 L692.5 541.9 L692.6 542.2 L697.0 540.6 L702.0 541.0 L708.0 543.0 L735.2 543.4 L740.2 534.2 L741.8 540.2 L748.2 541.8 L750.9 541.6 L751.2 542.2 L753.8 541.6 L754.1 542.3 L756.7 541.7 L757.0 542.3 L759.5 541.7 L759.8 542.4 L762.4 541.8 L762.7 542.4 L765.3 541.8 L765.6 542.5 L768.1 541.9 L768.3 542.2 L773.3 540.6 L775.3 541.4 L778.3 539.6 L781.3 539.8 L783.3 541.6 L792.3 542.2 L794.3 540.4 L796.3 541.4 L810.4 542.8 L824.4 542.8 L829.4 542.0 L830.5 542.6" fill="none" stroke="#0000ff" stroke-width="1.3" stroke-linejoin="round"/>
<text transform="translate(522.0,514.8) rotate(-90)" font-size="12.3" text-anchor="middle" font-family='"Liberation Sans", sans-serif'>σ<tspan dy="6" font-size="9">θθ</tspan><tspan dy="-6" dx="0.8"> </tspan>(rad<tspan dy="-6.3" font-size="10.5">2</tspan><tspan dy="6.3">)</tspan></text>
<text x="695.50" y="568.90" font-size="12.5" text-anchor="middle" font-family='"Liberation Sans", sans-serif' >Time (sec)</text>
</svg>
</body></html>
